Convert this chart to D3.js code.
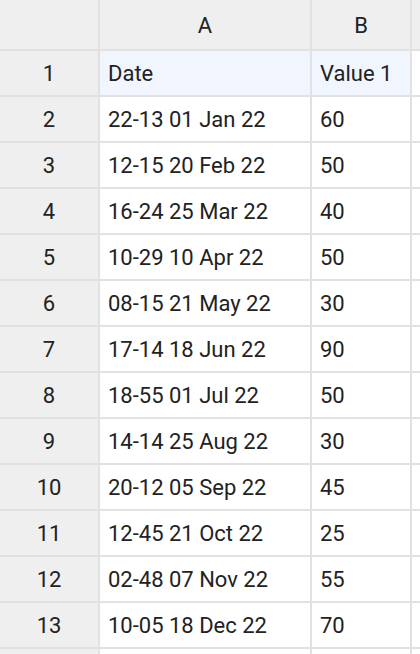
<!DOCTYPE html><html><head><meta charset="utf-8">
<script src="https://cdn.jsdelivr.net/npm/d3@7"></script>
<style>body{margin:0;background:#fff}svg{display:block}</style></head><body><svg id="c" width="420" height="654"></svg>
<script>
const columns=["A","B"];
const headers=["Date","Value 1"];
const dates=["22-13 01 Jan 22","12-15 20 Feb 22","16-24 25 Mar 22","10-29 10 Apr 22","08-15 21 May 22","17-14 18 Jun 22","18-55 01 Jul 22","14-14 25 Aug 22","20-12 05 Sep 22","12-45 21 Oct 22","02-48 07 Nov 22","10-05 18 Dec 22"];
const values=[60,50,40,50,30,90,50,30,45,25,55,70];
const rows=[headers].concat(dates.map((d,i)=>[d,String(values[i])]));
const svg=d3.select("#c");
const font="Roboto, 'Noto Sans', sans-serif";
const fs=22;
const colX=d3.scaleOrdinal().domain(["#","A","B","C"]).range([0,99,311,411]);
const colW={"#":99,"A":212,"B":100,"C":20};
const y=d3.scaleBand().domain(d3.range(1,rows.length+1)).range([50,50+46*rows.length]);
svg.append("rect").attr("x",0).attr("y",0).attr("width",420).attr("height",50).attr("fill","#efefef");
svg.append("rect").attr("x",0).attr("y",50).attr("width",99).attr("height",654).attr("fill","#efefef");
svg.append("rect").attr("x",99).attr("y",y(1)).attr("width",312).attr("height",y.bandwidth()).attr("fill","#f0f5fe");
const g=svg.append("g").attr("stroke","#e1e1e1").attr("stroke-width",2);
["A","B","C"].forEach(c=>g.append("line").attr("x1",colX(c)).attr("x2",colX(c)).attr("y1",0).attr("y2",654));
[50].concat(y.domain().map(r=>y(r)+y.bandwidth())).forEach(v=>g.append("line").attr("x1",0).attr("x2",420).attr("y1",v).attr("y2",v));
columns.forEach(c=>svg.append("text").attr("x",colX(c)+colW[c]/2).attr("y",25).attr("dy","0.35em").attr("text-anchor","middle").attr("font-family",font).attr("font-size",fs).attr("fill","#222").text(c));
rows.forEach((r,i)=>{
  const yy=y(i+1)+y.bandwidth()/2;
  svg.append("text").attr("x",49).attr("y",yy).attr("dy","0.35em").attr("text-anchor","middle").attr("font-family",font).attr("font-size",fs).attr("fill","#222").text(i+1);
  r.forEach((v,j)=>svg.append("text").attr("x",colX(columns[j])+9).attr("y",yy).attr("dy","0.35em").attr("font-family",font).attr("font-size",fs).attr("fill","#222").text(v));
});
</script></body></html>
